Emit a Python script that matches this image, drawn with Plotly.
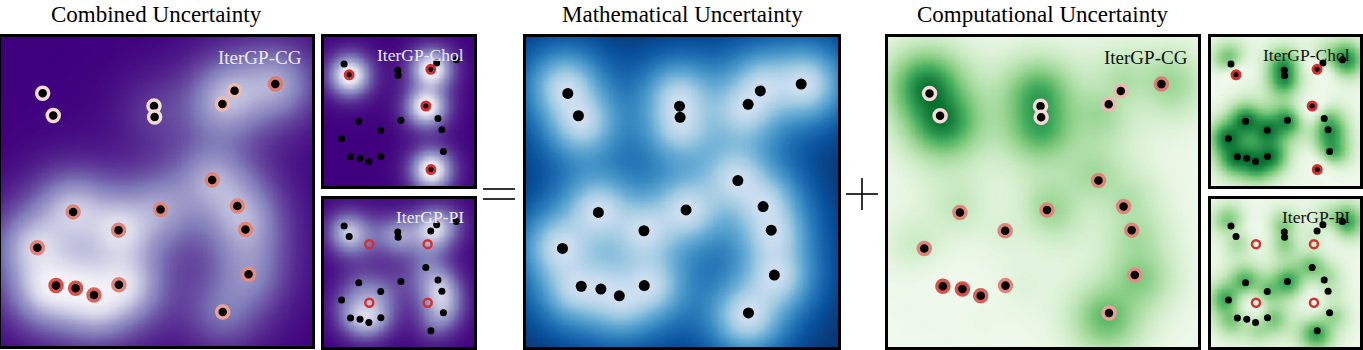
import numpy as np
import plotly.graph_objects as go
import plotly.colors as pc

W, H = 1363, 350

pt_u = [0.134, 0.168, 0.492, 0.494, 0.712, 0.751, 0.882, 0.679, 0.760, 0.786,
        0.796, 0.713, 0.513, 0.378, 0.232, 0.117, 0.177, 0.240, 0.299, 0.379]
pt_v = [0.182, 0.254, 0.223, 0.259, 0.217, 0.174, 0.152, 0.463, 0.547, 0.623,
        0.768, 0.890, 0.558, 0.625, 0.566, 0.682, 0.804, 0.813, 0.835, 0.802]
# CG: how strongly each observation is used after a few iterations (ring colour)
cg_ring = ['#f4dcd6', '#f4dcd6', '#f4dcd6', '#f4dcd6', '#ecb8b0', '#ecb8b0',
           '#de7a72', '#e0857c', '#e0857c', '#e0857c', '#e28c82', '#e8a298',
           '#e0857c', '#e0857c', '#e0857c', '#e0857c', '#d6504c', '#d6504c',
           '#da625c', '#e0857c']
cg_tau = [1e3, 1e3, 10.0, 10.0, 1.0, 1.0, 0.8, 0.8, 1.0, 1.0,
          1.5, 2.0, 1.0, 0.2, 0.4, 0.3, 0.01, 0.01, 0.03, 0.12]
chol_idx = [1, 4, 7, 11]          # points selected by IterGP-Chol
pi_u = [0.302, 0.691, 0.302, 0.691]  # IterGP-PI pseudo-inputs
pi_v = [0.305, 0.305, 0.701, 0.701]

titles = ["Combined Uncertainty", "Mathematical Uncertainty", "Computational Uncertainty"]

# ---- GP model used to draw the uncertainty fields (Matern-5/2 kernel) ----
ell, s2 = 0.15, 0.01


def kern(A, B):
    d = np.sqrt(((A[:, None, :] - B[None, :, :]) ** 2).sum(-1))
    a = np.sqrt(5.0) * d / ell
    return (1 + a + a * a / 3.0) * np.exp(-a)


n = 121
g = np.linspace(0, 1, n)
GU, GV = np.meshgrid(g, g)
G = np.c_[GU.ravel(), GV.ravel()]
X = np.c_[pt_u, pt_v]
Z = np.c_[pi_u, pi_v]
K = kern(X, X)
Kh = K + s2 * np.eye(len(X))
Kx = kern(G, X)


def var_from(Minv, A):
    return 1 - np.sum((A @ Minv) * A, axis=1)


v_math = var_from(np.linalg.inv(Kh), Kx)
v_cg = var_from(np.linalg.inv(K + np.diag(s2 + np.array(cg_tau))), Kx)
S = np.eye(len(X))[:, chol_idx]
v_chol = var_from(np.linalg.inv(S.T @ Kh @ S), Kx @ S)
S = kern(X, Z)
v_pi = var_from(np.linalg.inv(S.T @ Kh @ S), Kx @ S)

grid = lambda v: v.reshape(n, n)

purples = pc.sequential.Purples
blues = pc.sequential.Blues
greens = pc.sequential.Greens[:8]

# ---- layout of panels (pixel boxes) ----
boxes = {
    'A': (1, 312, 37, 346),
    'B': (324, 474, 37, 186),
    'C': (324, 474, 199, 347),
    'D': (526, 838, 37, 347),
    'E': (888, 1198, 37, 347),
    'F': (1211, 1360, 37, 186),
    'G': (1211, 1360, 199, 347),
}

fig = go.Figure()
layout = dict(width=W, height=H, margin=dict(l=0, r=0, t=0, b=0),
              paper_bgcolor='white', plot_bgcolor='white', showlegend=False)

comp_max = max((v_cg - v_math).max(), (v_chol - v_math).max(), (v_pi - v_math).max())

panels = [
    ('A', grid(v_cg), purples, -0.03, 1.0),
    ('B', grid(v_chol), purples, -0.03, 1.0),
    ('C', grid(v_pi), purples, -0.03, 1.0),
    ('D', grid(v_math), blues, -0.25, 1.0),
    ('E', grid(v_cg - v_math), greens, -0.06 * comp_max, comp_max),
    ('F', grid(v_chol - v_math), greens, -0.06 * comp_max, comp_max),
    ('G', grid(v_pi - v_math), greens, -0.06 * comp_max, comp_max),
]

for i, (key, z, cs, zmin, zmax) in enumerate(panels, start=1):
    x0, x1, y0, y1 = boxes[key]
    xa = 'x' if i == 1 else f'x{i}'
    ya = 'y' if i == 1 else f'y{i}'
    fig.add_trace(go.Heatmap(z=z, x=g, y=g, colorscale=cs, zmin=zmin, zmax=zmax,
                             zsmooth='best', showscale=False, hoverinfo='skip',
                             xaxis=xa, yaxis=ya))
    ax = dict(domain=[x0 / W, x1 / W], range=[0, 1], showticklabels=False,
              showgrid=False, zeroline=False, ticks='', showline=True, mirror=True,
              linecolor='black', linewidth=2.5)
    ay = dict(domain=[1 - y1 / H, 1 - y0 / H], range=[1, 0], showticklabels=False,
              showgrid=False, zeroline=False, ticks='', showline=True, mirror=True,
              linecolor='black', linewidth=2.5)
    layout['xaxis' if i == 1 else f'xaxis{i}'] = dict(ax, anchor=ya)
    layout['yaxis' if i == 1 else f'yaxis{i}'] = dict(ay, anchor=xa)

    if key in ('A', 'E'):
        fig.add_trace(go.Scatter(x=pt_u, y=pt_v, mode='markers', xaxis=xa, yaxis=ya,
                                 hoverinfo='skip',
                                 marker=dict(size=12, color='black',
                                             line=dict(color=cg_ring, width=3.5))))
    elif key == 'D':
        fig.add_trace(go.Scatter(x=pt_u, y=pt_v, mode='markers', xaxis=xa, yaxis=ya,
                                 hoverinfo='skip', marker=dict(size=11, color='black')))
    else:
        fig.add_trace(go.Scatter(x=pt_u, y=pt_v, mode='markers', xaxis=xa, yaxis=ya,
                                 hoverinfo='skip', marker=dict(size=7, color='black')))
        if key in ('B', 'F'):
            cu = [pt_u[j] for j in chol_idx]
            cv = [pt_v[j] for j in chol_idx]
            fig.add_trace(go.Scatter(x=cu, y=cv, mode='markers', xaxis=xa, yaxis=ya,
                                     hoverinfo='skip',
                                     marker=dict(size=8, color='black',
                                                 line=dict(color='#d62f2f', width=3))))
        else:
            fig.add_trace(go.Scatter(x=pi_u, y=pi_v, mode='markers', xaxis=xa, yaxis=ya,
                                     hoverinfo='skip',
                                     marker=dict(size=8, symbol='circle-open',
                                                 color='#d62f2f',
                                                 line=dict(color='#d62f2f', width=2.5))))

fig.update_layout(**layout)

# ---- text ----
ann = []
font_serif = "Liberation Serif, Times New Roman, serif"
for key, t in zip(['A', 'D', 'E'], titles):
    x0, x1, y0, y1 = boxes[key]
    ann.append(dict(x=(x0 + x1) / 2 / W, y=1.0, xref='paper', yref='paper',
                    text=t, showarrow=False, xanchor='center', yanchor='top',
                    font=dict(family=font_serif, size=23, color='black')))
labels = [('A', 'IterGP-CG', '#ecebf5', 19, 8), ('B', 'IterGP-Chol', '#ecebf5', 17.5, 6),
          ('C', 'IterGP-PI', '#ecebf5', 17.5, 6), ('E', 'IterGP-CG', '#111111', 19, 8),
          ('F', 'IterGP-Chol', '#111111', 17.5, 6), ('G', 'IterGP-PI', '#111111', 17.5, 6)]
for key, t, col, fs, dy in labels:
    x0, x1, y0, y1 = boxes[key]
    ann.append(dict(x=(x1 - 8) / W, y=1 - (y0 + dy) / H, xref='paper', yref='paper',
                    text=t, showarrow=False, xanchor='right', yanchor='top',
                    font=dict(family=font_serif, size=fs, color=col)))
fig.update_layout(annotations=ann)

# ---- "=" and "+" signs ----
def px_line(xa, ya, xb, yb):
    return dict(type='line', xref='paper', yref='paper', x0=xa / W, x1=xb / W,
                y0=1 - ya / H, y1=1 - yb / H, line=dict(color='black', width=1.6))

fig.update_layout(shapes=[px_line(483, 189, 515, 189), px_line(483, 199, 515, 199),
                          px_line(846, 194, 878, 194), px_line(862, 178, 862, 210)])

fig.write_html("out.html", config={'displayModeBar': False},
               post_script="document.body.style.margin='0px';")
